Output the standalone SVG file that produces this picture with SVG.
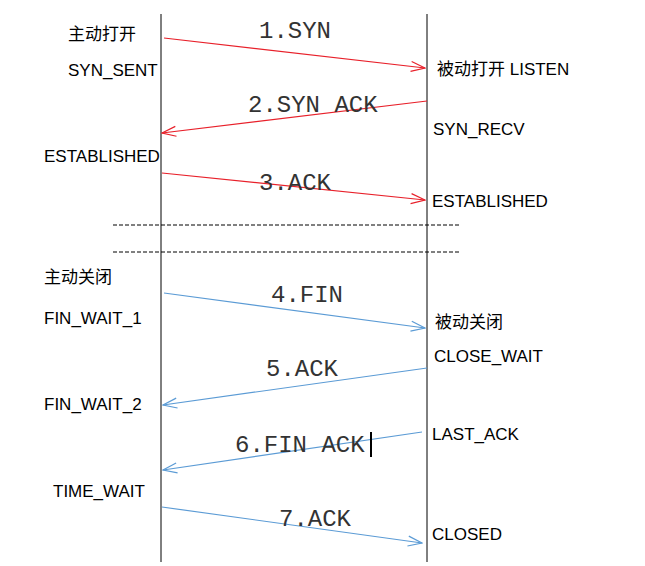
<svg xmlns="http://www.w3.org/2000/svg" width="645" height="566" viewBox="0 0 645 566">
<style>
.s{font-family:"Liberation Sans","Noto Sans CJK SC",sans-serif;font-size:17px;fill:#000}
.m{font-family:"Liberation Mono",monospace;font-size:24px;fill:#333}
.r{stroke:#e8202a;stroke-width:1.2;fill:none}
.b{stroke:#5b9bd5;stroke-width:1.2;fill:none}
</style>
<defs>
<marker id="ar" markerWidth="16" markerHeight="12" refX="15" refY="6" orient="auto" markerUnits="userSpaceOnUse"><path d="M1,1 L15,6 L1,11" fill="none" stroke="#e8202a" stroke-width="1.2"/></marker>
<marker id="ab" markerWidth="16" markerHeight="12" refX="15" refY="6" orient="auto" markerUnits="userSpaceOnUse"><path d="M1,1 L15,6 L1,11" fill="none" stroke="#5b9bd5" stroke-width="1.2"/></marker>
</defs>
<rect width="645" height="566" fill="#fff"/>
<g id="lifelines" stroke="#000" stroke-width="1">
<line x1="161" y1="14" x2="161" y2="562"/>
<line x1="427" y1="14" x2="427" y2="562"/>
<line x1="113" y1="225" x2="460" y2="225" stroke-dasharray="4,2"/>
<line x1="113" y1="252" x2="460" y2="252" stroke-dasharray="4,2"/>
</g>
<g id="connectors">
<line class="r" x1="164" y1="38" x2="425" y2="68" marker-end="url(#ar)"/>
<line class="r" x1="427" y1="101" x2="162" y2="133" marker-end="url(#ar)"/>
<line class="r" x1="162" y1="173" x2="425" y2="200" marker-end="url(#ar)"/>
<line class="b" x1="164" y1="293" x2="425" y2="328" marker-end="url(#ab)"/>
<line class="b" x1="427" y1="368" x2="163" y2="405" marker-end="url(#ab)"/>
<line class="b" x1="422" y1="432" x2="163" y2="470" marker-end="url(#ab)"/>
<line class="b" x1="162" y1="507" x2="422" y2="543" marker-end="url(#ab)"/>
</g>
<g id="messages">
<text class="m" x="259" y="38">1.SYN</text>
<text class="m" x="248" y="112">2.SYN ACK</text>
<text class="m" x="259" y="190">3.ACK</text>
<text class="m" x="271" y="302">4.FIN</text>
<text class="m" x="266" y="376">5.ACK</text>
<text class="m" x="235" y="452">6.FIN ACK</text>
<line x1="371" y1="432" x2="371" y2="457" stroke="#000" stroke-width="2"/>
<text class="m" x="279" y="526">7.ACK</text>
</g>
<g id="states">
<text class="s" x="68" y="40">主动打开</text>
<text class="s" x="68" y="76">SYN_SENT</text>
<text class="s" x="437" y="75">被动打开 LISTEN</text>
<text class="s" x="433" y="135">SYN_RECV</text>
<text class="s" x="44" y="162">ESTABLISHED</text>
<text class="s" x="432" y="207">ESTABLISHED</text>
<text class="s" x="44" y="283">主动关闭</text>
<text class="s" x="44" y="324">FIN_WAIT_1</text>
<text class="s" x="435" y="328">被动关闭</text>
<text class="s" x="434" y="362">CLOSE_WAIT</text>
<text class="s" x="44" y="410">FIN_WAIT_2</text>
<text class="s" x="432" y="440">LAST_ACK</text>
<text class="s" x="53" y="497">TIME_WAIT</text>
<text class="s" x="432" y="540">CLOSED</text>
</g>
</svg>
